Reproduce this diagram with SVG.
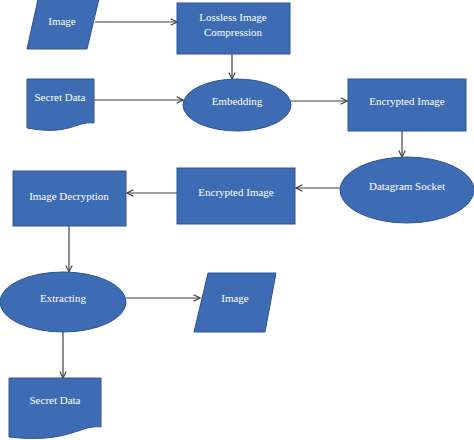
<svg xmlns="http://www.w3.org/2000/svg" width="474" height="440" viewBox="0 0 474 440">
<defs>
<style>
.s{fill:#3d6cb5;stroke:#2f5597;stroke-width:1}
.t{fill:#ffffff;font-family:"Liberation Serif","Times New Roman",serif;font-size:11px;text-anchor:middle}
.c{fill:none;stroke:#404040;stroke-width:1.2}
</style>
<marker id="a" viewBox="0 0 10 10" refX="9" refY="5" markerWidth="8" markerHeight="8" markerUnits="userSpaceOnUse" orient="auto">
<path d="M1,1 L9,5 L1,9" fill="none" stroke="#404040" stroke-width="1.4"/>
</marker>
</defs>
<rect width="474" height="440" fill="#ffffff"/>
<g id="connectors">
<line class="c" x1="95" y1="22" x2="177" y2="22" marker-end="url(#a)"/>
<line class="c" x1="232" y1="54" x2="232" y2="79" marker-end="url(#a)"/>
<line class="c" x1="94" y1="100" x2="183" y2="100" marker-end="url(#a)"/>
<line class="c" x1="291" y1="101" x2="347" y2="101" marker-end="url(#a)"/>
<line class="c" x1="402" y1="131" x2="402" y2="157" marker-end="url(#a)"/>
<line class="c" x1="341" y1="188" x2="296" y2="188" marker-end="url(#a)"/>
<line class="c" x1="177" y1="193" x2="127" y2="193" marker-end="url(#a)"/>
<line class="c" x1="69" y1="226" x2="69" y2="272" marker-end="url(#a)"/>
<line class="c" x1="126" y1="298" x2="200" y2="298" marker-end="url(#a)"/>
<line class="c" x1="63" y1="332" x2="63" y2="378" marker-end="url(#a)"/>
</g>
<g id="image-in">
<polygon class="s" points="38,-1 99,-1 87,49 27,49"/>
<text class="t" x="62" y="25">Image</text>
</g>
<g id="lossless">
<rect class="s" x="177" y="3" width="113" height="51"/>
<text class="t" x="233" y="21">Lossless Image</text>
<text class="t" x="233" y="36">Compression</text>
</g>
<g id="secret-in">
<path class="s" d="M27,79 H94 V123 C75,121 70,136 27,128 Z"/>
<text class="t" x="60" y="101">Secret Data</text>
</g>
<g id="embedding">
<ellipse class="s" cx="237" cy="105" rx="54" ry="26"/>
<text class="t" x="237" y="105">Embedding</text>
</g>
<g id="encrypted1">
<rect class="s" x="348" y="79" width="118" height="52"/>
<text class="t" x="407" y="105">Encrypted Image</text>
</g>
<g id="datagram">
<ellipse class="s" cx="407" cy="190" rx="67" ry="33"/>
<text class="t" x="407" y="190">Datagram Socket</text>
</g>
<g id="encrypted2">
<rect class="s" x="177" y="168" width="118" height="56"/>
<text class="t" x="236" y="196">Encrypted Image</text>
</g>
<g id="decryption">
<rect class="s" x="13" y="171" width="113" height="55"/>
<text class="t" x="69" y="200">Image Decryption</text>
</g>
<g id="extracting">
<ellipse class="s" cx="63" cy="302" rx="63" ry="30"/>
<text class="t" x="63" y="302">Extracting</text>
</g>
<g id="image-out">
<polygon class="s" points="208,273 276,273 265,332 194,332"/>
<text class="t" x="235" y="302">Image</text>
</g>
<g id="secret-out">
<path class="s" d="M9,378 H101 V427 C80,424 70,444 9,437 Z"/>
<text class="t" x="55" y="404">Secret Data</text>
</g>
</svg>
